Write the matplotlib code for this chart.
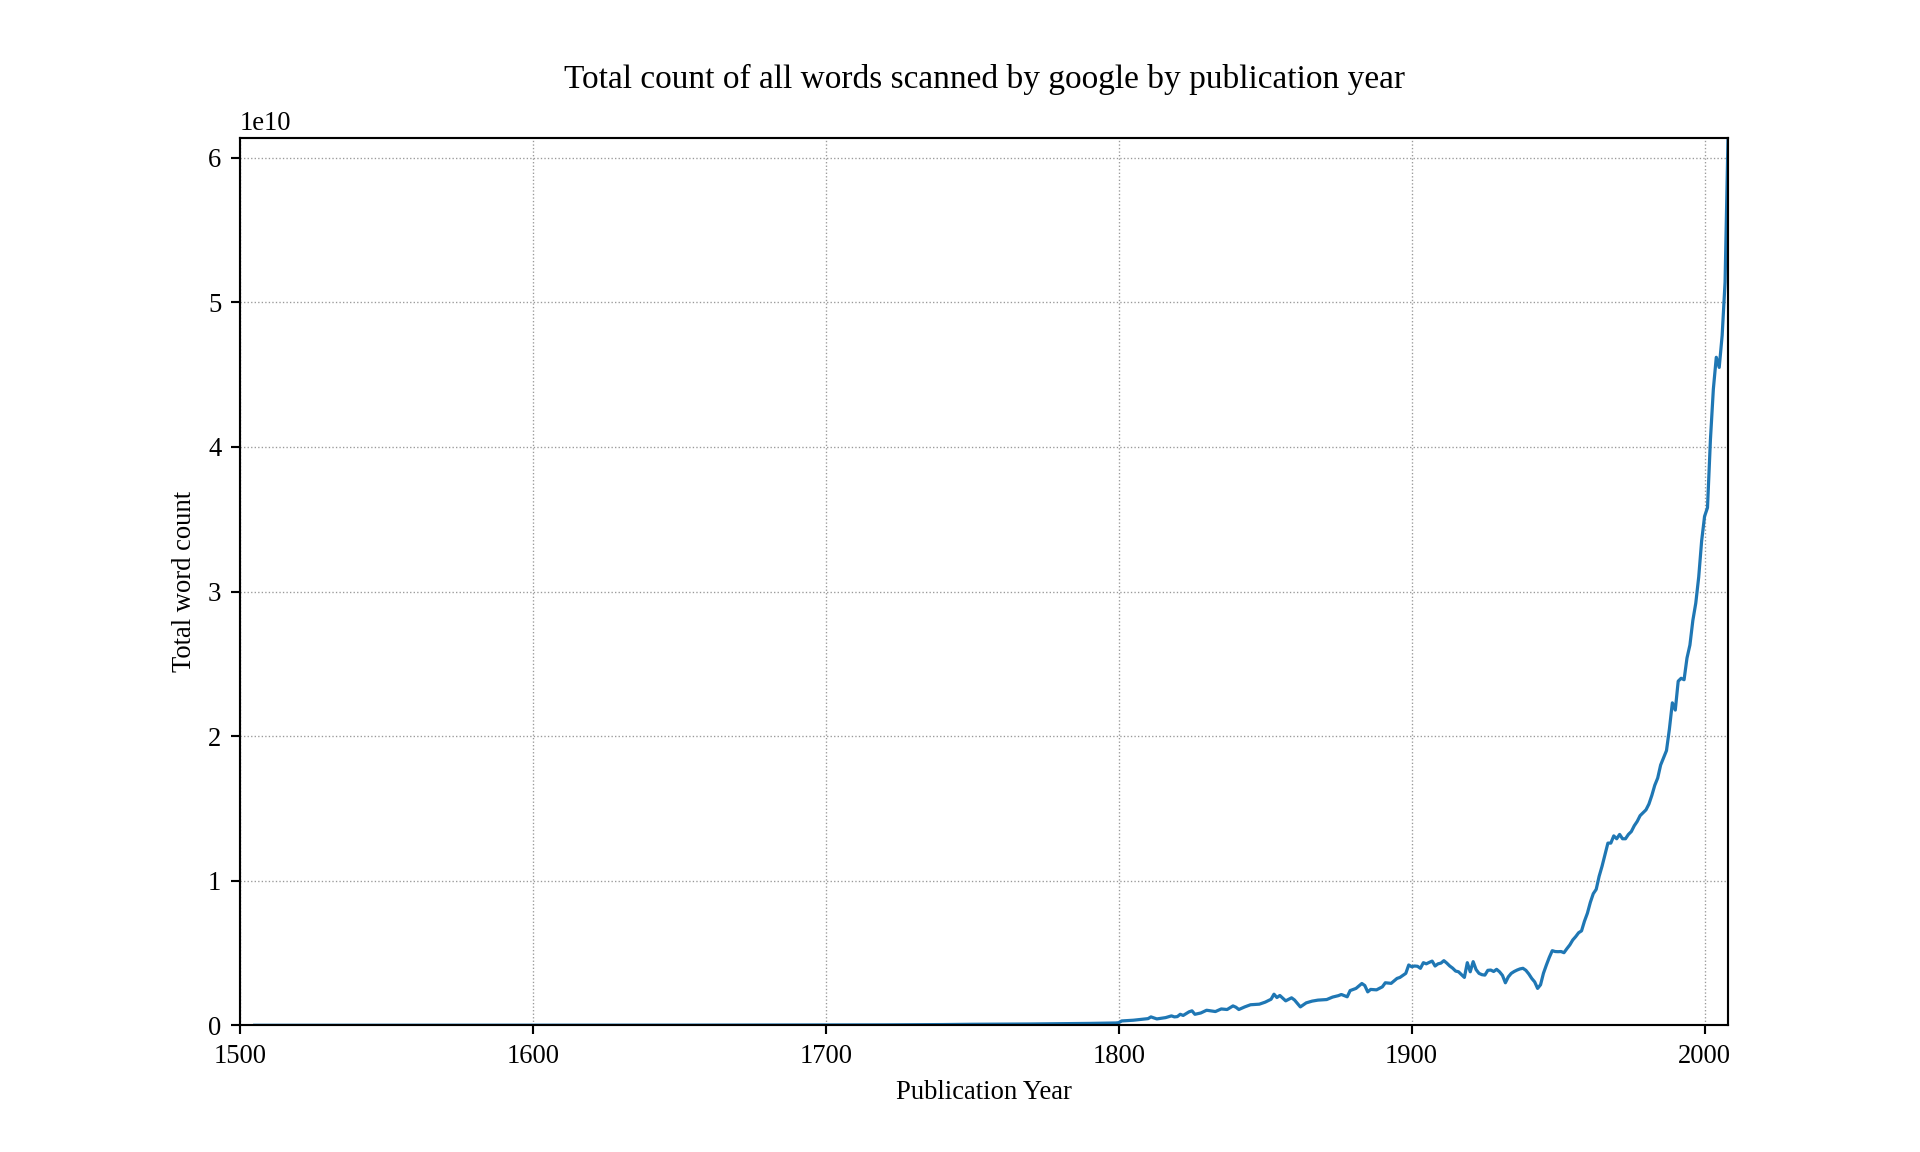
import numpy as np
import matplotlib
matplotlib.use('Agg')
import matplotlib.pyplot as plt

# publication years and total scanned word counts (in billions)
years = [1505, 1550, 1600, 1650, 1700, 1720, 1740, 1750, 1760, 1770, 1780, 1790,
         1795, 1799, 1800, 1801, 1805, 1808, 1810, 1811, 1813, 1816, 1818, 1819,
         1820, 1821, 1822, 1824, 1825, 1826, 1828, 1830, 1833, 1835, 1837, 1839,
         1840, 1841, 1843, 1845, 1848, 1850, 1852, 1853, 1854, 1855, 1857, 1859,
         1860, 1862, 1864, 1866, 1868, 1871, 1873, 1875, 1876, 1878, 1879, 1881,
         1883, 1884, 1885, 1886, 1888, 1890, 1891, 1893, 1895, 1896, 1898, 1899,
         1900, 1901, 1902, 1903, 1904, 1905, 1906, 1907, 1908, 1909, 1910, 1911,
         1912, 1913, 1914, 1915, 1916, 1917, 1918, 1919, 1920, 1921, 1922, 1923,
         1924, 1925, 1926, 1927, 1928, 1929, 1930, 1931, 1932, 1933, 1934, 1935,
         1936, 1937, 1938, 1939, 1940, 1941, 1942, 1943, 1944, 1945, 1946, 1947,
         1948, 1949, 1950, 1951, 1952, 1953, 1954, 1955, 1956, 1957, 1958, 1959,
         1960, 1961, 1962, 1963, 1964, 1965, 1966, 1967, 1968, 1969, 1970, 1971,
         1972, 1973, 1974, 1975, 1976, 1977, 1978, 1979, 1980, 1981, 1982, 1983,
         1984, 1985, 1986, 1987, 1988, 1989, 1990, 1991, 1992, 1993, 1994, 1995,
         1996, 1997, 1998, 1999, 2000, 2001, 2002, 2003, 2004, 2005, 2006, 2007,
         2008]

counts_bn = [0.0, 0.002, 0.005, 0.01, 0.02, 0.03, 0.05, 0.07, 0.08, 0.09, 0.11, 0.13,
             0.15, 0.16, 0.18, 0.30, 0.35, 0.42, 0.46, 0.58, 0.44, 0.53, 0.65, 0.58,
             0.60, 0.76, 0.68, 0.93, 1.00, 0.76, 0.85, 1.04, 0.95, 1.13, 1.09, 1.34,
             1.25, 1.09, 1.27, 1.42, 1.46, 1.60, 1.80, 2.15, 1.92, 2.06, 1.69, 1.90,
             1.75, 1.27, 1.55, 1.67, 1.74, 1.78, 1.95, 2.05, 2.13, 1.97, 2.40, 2.55,
             2.89, 2.75, 2.31, 2.48, 2.45, 2.66, 2.94, 2.90, 3.24, 3.31, 3.59, 4.17,
             4.05, 4.10, 4.08, 3.94, 4.33, 4.25, 4.35, 4.44, 4.10, 4.25, 4.30, 4.47,
             4.30, 4.10, 3.95, 3.75, 3.70, 3.50, 3.31, 4.33, 3.70, 4.40, 3.85, 3.59,
             3.50, 3.47, 3.80, 3.82, 3.72, 3.87, 3.70, 3.45, 2.94, 3.35, 3.59, 3.72,
             3.82, 3.90, 3.94, 3.80, 3.55, 3.24, 3.00, 2.55, 2.80, 3.60, 4.17, 4.70,
             5.16, 5.10, 5.09, 5.10, 5.02, 5.30, 5.56, 5.90, 6.13, 6.40, 6.53, 7.20,
             7.75, 8.50, 9.10, 9.40, 10.3, 11.0, 11.8, 12.6, 12.6, 13.1, 12.9, 13.2,
             12.9, 12.9, 13.2, 13.4, 13.8, 14.1, 14.5, 14.7, 14.9, 15.3, 15.9, 16.6,
             17.1, 18.0, 18.5, 19.0, 20.5, 22.3, 21.8, 23.8, 24.0, 23.9, 25.4, 26.3,
             28.0, 29.2, 31.0, 33.5, 35.2, 35.8, 40.5, 44.0, 46.2, 45.5, 47.7, 51.4,
             61.35]

counts = np.array(counts_bn) * 1e9

plt.rcParams['font.family'] = ['Liberation Serif', 'DejaVu Serif']

fig = plt.figure(figsize=(10, 6), dpi=192)
plt.plot(years, counts, linewidth=1.2)
plt.title('Total count of all words scanned by google by publication year',
          fontsize=12.5, pad=19)
plt.xlabel('Publication Year')
plt.ylabel('Total word count')
plt.xlim(1500, 2008)
plt.ylim(0, counts.max())
plt.grid(True, linestyle=':', color='#999999', linewidth=0.5)

plt.savefig('out.png', dpi=192)
plt.close()
